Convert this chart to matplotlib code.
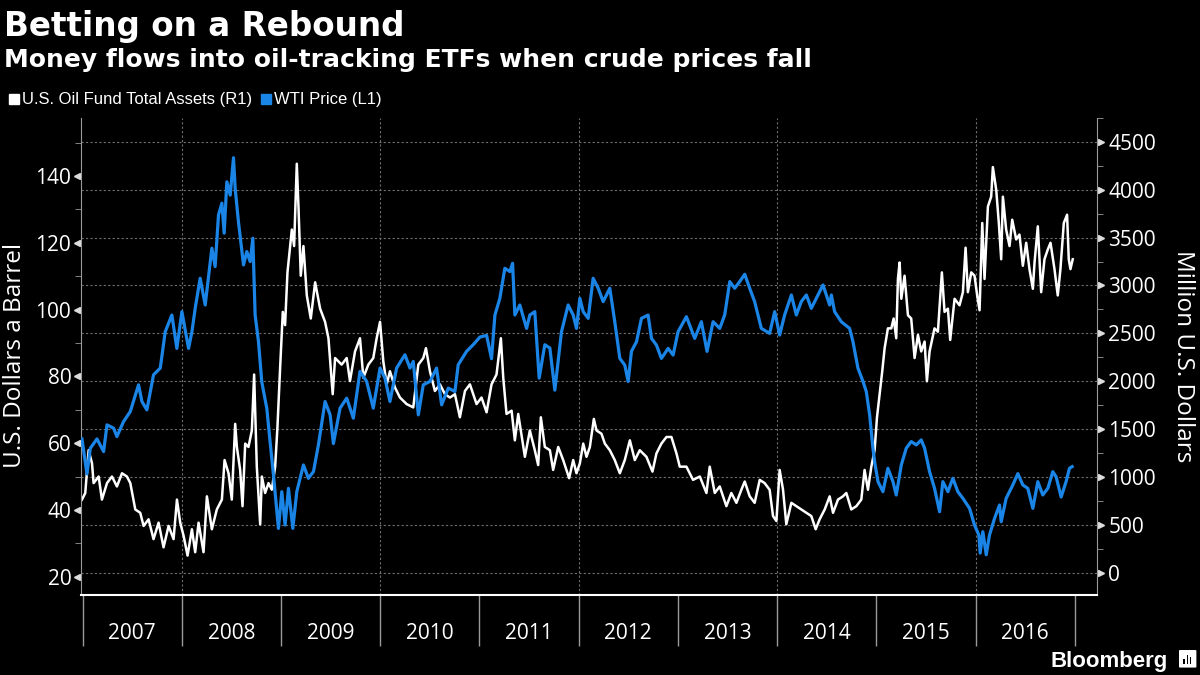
import numpy as np
import matplotlib
matplotlib.use("Agg")
import matplotlib.pyplot as plt
from matplotlib.lines import Line2D
from matplotlib.patches import FancyBboxPatch, Rectangle

plt.rcParams['font.family'] = ['Open Sans', 'DejaVu Sans']

# WTI crude price, USD a barrel (left axis)
wti_year = [
    2006.994, 2007.044, 2007.078, 2007.145, 2007.212, 2007.246, 2007.313, 2007.346, 2007.413, 2007.481,
    2007.564, 2007.598, 2007.648, 2007.715, 2007.783, 2007.833, 2007.900, 2007.950, 2008.001, 2008.068,
    2008.102, 2008.135, 2008.185, 2008.236, 2008.303, 2008.336, 2008.370, 2008.404, 2008.427, 2008.454,
    2008.488, 2008.521, 2008.538, 2008.571, 2008.622, 2008.655, 2008.689, 2008.716, 2008.739, 2008.773,
    2008.806, 2008.857, 2008.890, 2008.924, 2008.974, 2009.008, 2009.041, 2009.075, 2009.119, 2009.159,
    2009.226, 2009.276, 2009.327, 2009.377, 2009.444, 2009.495, 2009.528, 2009.595, 2009.662, 2009.729,
    2009.796, 2009.863, 2009.930, 2009.998, 2010.048, 2010.098, 2010.165, 2010.249, 2010.300, 2010.333,
    2010.384, 2010.434, 2010.501, 2010.568, 2010.619, 2010.686, 2010.753, 2010.786, 2010.870, 2010.937,
    2011.005, 2011.072, 2011.122, 2011.156, 2011.206, 2011.256, 2011.307, 2011.334, 2011.357, 2011.407,
    2011.475, 2011.508, 2011.558, 2011.602, 2011.659, 2011.710, 2011.760, 2011.827, 2011.894, 2011.945,
    2011.978, 2012.012, 2012.046, 2012.096, 2012.146, 2012.197, 2012.247, 2012.314, 2012.364, 2012.415,
    2012.465, 2012.499, 2012.532, 2012.583, 2012.633, 2012.700, 2012.734, 2012.784, 2012.834, 2012.902,
    2012.952, 2013.002, 2013.086, 2013.170, 2013.237, 2013.294, 2013.355, 2013.422, 2013.472, 2013.523,
    2013.573, 2013.623, 2013.674, 2013.724, 2013.774, 2013.841, 2013.925, 2013.976, 2014.026, 2014.076,
    2014.144, 2014.194, 2014.244, 2014.295, 2014.345, 2014.412, 2014.463, 2014.530, 2014.547, 2014.580,
    2014.647, 2014.731, 2014.765, 2014.815, 2014.866, 2014.899, 2014.933, 2014.966, 2014.983, 2015.017,
    2015.067, 2015.117, 2015.168, 2015.201, 2015.252, 2015.302, 2015.352, 2015.403, 2015.453, 2015.487,
    2015.537, 2015.587, 2015.638, 2015.671, 2015.722, 2015.772, 2015.822, 2015.873, 2015.940, 2015.990,
    2016.034, 2016.047, 2016.074, 2016.108, 2016.141, 2016.192, 2016.242, 2016.259, 2016.309, 2016.376,
    2016.427, 2016.477, 2016.527, 2016.578, 2016.628, 2016.678, 2016.729, 2016.779, 2016.813, 2016.863,
    2016.913, 2016.947, 2016.974,
]
wti_price = [
    61.3, 50.8, 58.5, 61.3, 57.5, 65.5, 64.5, 62.0, 66.5, 69.5,
    77.5, 72.5, 70.0, 80.5, 82.5, 93.4, 98.4, 88.4, 99.4, 88.4,
    93.4, 100.4, 109.4, 101.4, 118.4, 112.9, 128.4, 131.9, 122.9, 138.3,
    134.3, 145.5, 136.3, 126.3, 113.4, 117.4, 114.4, 121.4, 98.4, 90.4,
    78.4, 70.4, 60.4, 50.5, 34.5, 45.5, 35.5, 46.5, 34.5, 45.5,
    53.5, 49.5, 51.5, 59.5, 72.5, 68.5, 59.9, 70.5, 73.5, 67.5,
    81.5, 78.5, 70.5, 82.5, 79.5, 72.5, 82.5, 86.5, 82.5, 84.5,
    68.5, 77.5, 78.5, 82.5, 71.5, 76.5, 75.5, 83.5, 87.5, 89.5,
    91.8, 92.3, 85.3, 98.4, 103.4, 112.4, 111.4, 113.9, 98.4, 101.4,
    94.4, 98.4, 99.4, 79.5, 89.5, 88.5, 75.9, 93.4, 101.4, 98.4,
    94.4, 103.4, 99.4, 97.4, 109.4, 106.4, 102.4, 106.4, 96.4, 85.4,
    83.4, 78.5, 87.5, 90.4, 97.4, 98.4, 91.4, 89.4, 85.4, 88.4,
    86.4, 93.4, 97.9, 91.4, 96.4, 87.5, 96.4, 94.4, 98.4, 108.4,
    106.4, 108.4, 110.6, 106.4, 102.4, 94.4, 92.9, 99.4, 92.4, 98.4,
    104.4, 98.4, 102.4, 104.4, 100.4, 104.4, 107.4, 101.4, 104.4, 99.4,
    96.4, 94.4, 90.4, 82.5, 78.5, 75.5, 68.5, 58.5, 54.5, 48.5,
    45.5, 52.5, 48.5, 44.5, 53.5, 58.5, 60.5, 59.5, 61.0, 58.5,
    51.5, 46.5, 39.5, 48.5, 45.5, 49.5, 45.5, 43.5, 40.5, 35.5,
    32.5, 27.1, 33.5, 26.6, 32.5, 37.5, 41.5, 36.5, 43.5, 47.5,
    50.9, 47.5, 46.5, 40.5, 48.5, 44.5, 46.5, 51.5, 49.9, 43.9,
    48.5, 52.5, 53.0,
]

# U.S. Oil Fund total assets, million USD (right axis)
uso_year = [
    2006.994, 2007.027, 2007.061, 2007.095, 2007.111, 2007.162, 2007.195, 2007.246, 2007.296, 2007.346,
    2007.397, 2007.447, 2007.481, 2007.531, 2007.581, 2007.615, 2007.665, 2007.715, 2007.766, 2007.816,
    2007.867, 2007.917, 2007.951, 2007.984, 2008.018, 2008.058, 2008.102, 2008.135, 2008.169, 2008.219,
    2008.253, 2008.303, 2008.353, 2008.404, 2008.431, 2008.471, 2008.504, 2008.538, 2008.555, 2008.588,
    2008.612, 2008.639, 2008.672, 2008.706, 2008.729, 2008.756, 2008.790, 2008.807, 2008.840, 2008.874,
    2008.907, 2008.941, 2008.964, 2008.991, 2009.018, 2009.041, 2009.065, 2009.109, 2009.132, 2009.159,
    2009.176, 2009.199, 2009.226, 2009.260, 2009.300, 2009.344, 2009.394, 2009.444, 2009.478, 2009.501,
    2009.521, 2009.545, 2009.611, 2009.662, 2009.695, 2009.746, 2009.796, 2009.830, 2009.880, 2009.930,
    2009.964, 2009.998, 2010.031, 2010.065, 2010.098, 2010.149, 2010.199, 2010.266, 2010.333, 2010.384,
    2010.434, 2010.461, 2010.501, 2010.551, 2010.602, 2010.652, 2010.703, 2010.753, 2010.803, 2010.854,
    2010.904, 2010.971, 2011.021, 2011.072, 2011.122, 2011.172, 2011.216, 2011.240, 2011.273, 2011.324,
    2011.357, 2011.391, 2011.458, 2011.508, 2011.558, 2011.592, 2011.619, 2011.659, 2011.710, 2011.743,
    2011.794, 2011.844, 2011.904, 2011.945, 2011.978, 2012.012, 2012.046, 2012.079, 2012.113, 2012.153,
    2012.180, 2012.230, 2012.264, 2012.314, 2012.364, 2012.415, 2012.465, 2012.516, 2012.566, 2012.616,
    2012.683, 2012.744, 2012.784, 2012.834, 2012.885, 2012.935, 2012.986, 2013.019, 2013.086, 2013.153,
    2013.221, 2013.288, 2013.321, 2013.372, 2013.422, 2013.489, 2013.539, 2013.590, 2013.640, 2013.674,
    2013.724, 2013.774, 2013.825, 2013.875, 2013.925, 2013.959, 2013.993, 2014.026, 2014.060, 2014.093,
    2014.144, 2014.194, 2014.244, 2014.295, 2014.345, 2014.389, 2014.429, 2014.480, 2014.530, 2014.564,
    2014.614, 2014.664, 2014.698, 2014.748, 2014.799, 2014.849, 2014.882, 2014.916, 2014.950, 2014.983,
    2015.007, 2015.034, 2015.060, 2015.084, 2015.117, 2015.151, 2015.175, 2015.201, 2015.218, 2015.235,
    2015.252, 2015.285, 2015.319, 2015.352, 2015.386, 2015.420, 2015.453, 2015.487, 2015.510, 2015.537,
    2015.587, 2015.621, 2015.661, 2015.688, 2015.722, 2015.745, 2015.789, 2015.839, 2015.873, 2015.900,
    2015.923, 2015.957, 2015.990, 2016.017, 2016.041, 2016.068, 2016.091, 2016.125, 2016.158, 2016.175,
    2016.209, 2016.235, 2016.259, 2016.276, 2016.309, 2016.343, 2016.370, 2016.410, 2016.443, 2016.477,
    2016.511, 2016.544, 2016.578, 2016.595, 2016.628, 2016.662, 2016.695, 2016.729, 2016.756, 2016.796,
    2016.829, 2016.856, 2016.890, 2016.923, 2016.940, 2016.957, 2016.980,
]
uso_assets = [
    763, 832, 1279, 1141, 935, 1004, 763, 935, 1004, 900,
    1038, 1004, 935, 660, 625, 488, 557, 350, 522, 264,
    488, 350, 763, 522, 385, 178, 453, 213, 522, 213,
    797, 453, 660, 763, 1176, 1038, 763, 1554, 1313, 1073,
    694, 1348, 1313, 1485, 2070, 1107, 505, 1004, 832, 935,
    866, 1107, 1520, 2139, 2724, 2586, 3137, 3584, 3412, 4272,
    3825, 3102, 3412, 2896, 2655, 3033, 2758, 2620, 2449, 2139,
    1864, 2242, 2173, 2242, 2001, 2311, 2449, 2036, 2173, 2242,
    2449, 2620, 2208, 1967, 2104, 1933, 1829, 1761, 1726, 2173,
    2242, 2345, 2104, 1898, 1967, 1864, 1829, 1864, 1623, 1898,
    1967, 1761, 1829, 1675, 1967, 2070, 2449, 2036, 1658, 1692,
    1382, 1658, 1210, 1485, 1279, 1124, 1623, 1313, 1279, 1073,
    1313, 1176, 987, 1176, 1038, 1141, 1348, 1210, 1313, 1606,
    1485, 1451, 1348, 1279, 1176, 1038, 1176, 1382, 1176, 1279,
    1210, 1055, 1245, 1348, 1417, 1417, 1245, 1107, 1107, 969,
    1004, 832, 1107, 832, 900, 694, 832, 729, 866, 952,
    797, 729, 969, 935, 866, 591, 539, 1073, 866, 505,
    729, 694, 660, 625, 591, 453, 557, 660, 797, 625,
    763, 797, 832, 660, 694, 763, 1073, 866, 1107, 1279,
    1623, 1864, 2104, 2345, 2552, 2552, 2655, 2449, 3068, 3240,
    2861, 3102, 2689, 2655, 2242, 2483, 2311, 2414, 1999, 2311,
    2552, 2517, 3137, 2724, 2758, 2431, 2861, 2793, 2930, 3395,
    2930, 3137, 3102, 2896, 2741, 3653, 3068, 3825, 3928, 4237,
    3997, 3653, 3274, 3928, 3584, 3412, 3687, 3481, 3532, 3206,
    3446, 3171, 2965, 3240, 3618, 2930, 3274, 3377, 3446, 3171,
    2896, 3171, 3653, 3739, 3274, 3171, 3274,
]

years = list(range(2007, 2017))
left_ticks = [20, 40, 60, 80, 100, 120, 140]
right_ticks = [0, 500, 1000, 1500, 2000, 2500, 3000, 3500, 4000, 4500]

BLUE = '#1a85e6'
GRID = '#6e6e6e'
SPINE = '#9a9a9a'

fig = plt.figure(figsize=(12, 6.75), dpi=100, facecolor='black')
ax = fig.add_axes([0.0675, 0.1185, 0.8467, 0.7067])
ax2 = ax.twinx()
ax.set_zorder(ax2.get_zorder() + 1)
ax.patch.set_visible(False)
ax2.set_facecolor('black')

# lines
ax2.plot(uso_year, uso_assets, color='white', lw=1.8, zorder=3)
ax.plot(wti_year, wti_price, color=BLUE, lw=2.3, zorder=3)

ax.set_xlim(2006.984, 2017.225)
ax.set_ylim(14.55, 157.4)
ax2.set_ylim(-234, 4682)

# grid: horizontal from right axis, vertical every other year
ax2.set_yticks(right_ticks)
ax2.grid(axis='y', color=GRID, linestyle=(0, (2, 2)), linewidth=0.8)
for yr in years[1::2]:
    ax2.axvline(yr, color=GRID, linestyle=(0, (2, 2)), linewidth=0.8, zorder=0)

# spines
for s in ['top', 'right']:
    ax.spines[s].set_visible(False)
for s in ['top', 'left', 'bottom']:
    ax2.spines[s].set_visible(False)
ax.spines['left'].set_color(SPINE)
ax2.spines['right'].set_color(SPINE)
ax.spines['bottom'].set_color('white')
ax.spines['bottom'].set_linewidth(1.5)

# left y axis
ax.set_yticks(left_ticks)
ax.set_yticks([t + 10 for t in left_ticks], minor=True)
ax.tick_params(axis='y', which='major', length=0, pad=7, labelcolor='white', labelsize=15)
ax.tick_params(axis='y', which='minor', length=4, color=SPINE, direction='out')
ax.plot([-0.004] * len(left_ticks), left_ticks, linestyle='None', marker='<', markersize=5,
        color='#dddddd', transform=ax.get_yaxis_transform(), clip_on=False)

# right y axis
ax2.set_yticks([t + 250 for t in right_ticks], minor=True)
ax2.tick_params(axis='y', which='major', length=0, pad=8, labelcolor='white', labelsize=15)
ax2.tick_params(axis='y', which='minor', length=4, color=SPINE, direction='out')
ax2.plot([1.004] * len(right_ticks), right_ticks, linestyle='None', marker='>', markersize=5,
         color='#dddddd', transform=ax2.get_yaxis_transform(), clip_on=False)

# x axis: long separators at year starts, labels mid-year
ax.set_xticks(years + [2017])
ax.set_xticklabels([])
ax.set_xticks([y + 0.5 for y in years], minor=True)
ax.set_xticklabels([str(y) for y in years], minor=True)
ax.tick_params(axis='x', which='major', length=37, width=1, color=SPINE, direction='out')
ax.tick_params(axis='x', which='minor', length=0, pad=20, labelcolor='white', labelsize=15)

# axis titles
fig.text(0.0125, 0.474, 'U.S. Dollars a Barrel', rotation=90, color='white', fontsize=17.5,
         ha='center', va='center')
fig.text(0.986, 0.472, 'Million U.S. Dollars', rotation=270, color='white', fontsize=17.5,
         ha='center', va='center')

# title and subtitle
fig.text(0.003, 0.9467, 'Betting on a Rebound', color='white', fontsize=23.5, fontweight='bold',
         va='baseline', ha='left', family='DejaVu Sans')
fig.text(0.003, 0.9012, 'Money flows into oil-tracking ETFs when crude prices fall', color='white',
         fontsize=18, fontweight='bold', va='baseline', ha='left', family='DejaVu Sans')

# legend
handles = [Line2D([], [], marker='s', color='white', linestyle='None', markersize=7.5),
           Line2D([], [], marker='s', color=BLUE, linestyle='None', markersize=7.5)]
leg = fig.legend(handles, ['U.S. Oil Fund Total Assets (R1)', 'WTI Price (L1)'],
                 loc='center left', bbox_to_anchor=(0.0067, 0.852), ncol=2, frameon=False,
                 borderpad=0, borderaxespad=0, handlelength=0.7, handletextpad=0.15,
                 columnspacing=0.45, prop={'family': 'Liberation Sans', 'size': 12})
for t in leg.get_texts():
    t.set_color('white')

# Bloomberg mark
fig.text(0.9733, 0.0123, 'Bloomberg', color='white', fontsize=16, fontweight='bold',
         ha='right', va='baseline', family='Liberation Sans')
fig.patches.append(FancyBboxPatch((0.9835, 0.012), 0.0125, 0.024, boxstyle='round,pad=0.001',
                                  transform=fig.transFigure, facecolor='white', edgecolor='none'))
for bx, bh in [(0.9862, 0.007), (0.9888, 0.012), (0.9914, 0.009)]:
    fig.patches.append(Rectangle((bx, 0.017), 0.0015, bh, transform=fig.transFigure,
                                 facecolor='black', edgecolor='none'))

fig.savefig('out.png', dpi=100, facecolor='black')
